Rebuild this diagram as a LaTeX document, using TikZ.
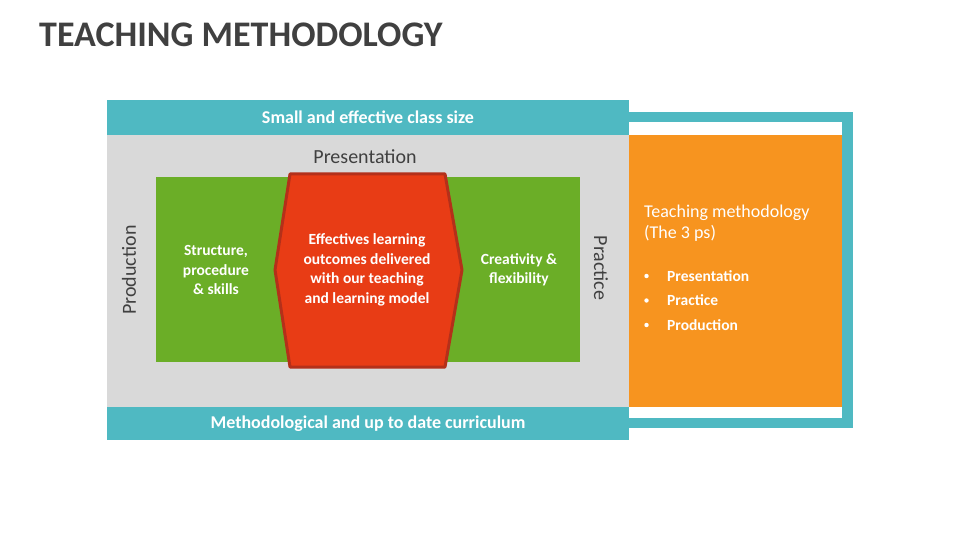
\documentclass[tikz,border=0pt]{standalone}
\usepackage{fontspec}
\setmainfont{Carlito}
\usepackage{xcolor}
\usetikzlibrary{positioning}

\definecolor{tealbar}{HTML}{4FB9C2}
\definecolor{panelgray}{HTML}{D9D9D9}
\definecolor{leafgreen}{HTML}{6BAE27}
\definecolor{hexred}{HTML}{E83C15}
\definecolor{hexedge}{HTML}{B4301A}
\definecolor{methodorange}{HTML}{F7941F}
\definecolor{inkgray}{HTML}{404040}

\begin{document}
\begin{tikzpicture}[
            x=1pt, y=-1pt,
            band/.style={rectangle, fill=tealbar, text=white, font=\fontsize{18}{21}\selectfont\bfseries, inner sep=0pt},
            panel/.style={rectangle, inner sep=0pt},
            whitetext/.style={text=white, font=\fontsize{15.5}{19.5}\selectfont\bfseries, align=center},
            sidetext/.style={text=inkgray, font=\fontsize{20}{24}\selectfont},
            bulletline/.style={text=white, font=\fontsize{15.5}{18}\selectfont\bfseries, anchor=west, inner sep=0pt}
        ]
        \useasboundingbox (0,0) rectangle (960,540);

        \node[anchor=west, inner sep=0pt, text=inkgray, font=\fontsize{36}{40}\selectfont\bfseries] (title) at (39,35) {TEACHING METHODOLOGY};

        % Left block
        \node[panel, fill=panelgray, minimum width=522pt, minimum height=272pt] (frame) at (368,271) {};
        \node[band, minimum width=522pt, minimum height=35pt] (classsize) at (368,117.5) {Small and effective class size};
        \node[band, minimum width=522pt, minimum height=33pt] (curriculum) at (368,423.5) {Methodological and up to date curriculum};
        \node[panel, fill=leafgreen, minimum width=424pt, minimum height=185pt] (green) at (368,269.5) {};

        % Centre hexagon
        \draw[fill=hexred, draw=hexedge, line width=3pt, line join=round]
            (290,174) -- (445,174) -- (462,270) -- (445,367) -- (290,367) -- (275,270) -- cycle;
        \node[whitetext] (outcomes) at (367,270) {Effectives learning\\outcomes delivered\\with our teaching\\and learning model};

        \node[whitetext] (structure) at (216,270) {Structure,\\procedure\\\& skills};
        \node[whitetext] (creativity) at (519,270) {Creativity \&\\flexibility};

        \node[sidetext] (presentation) at (365,157) {Presentation};
        \node[sidetext, rotate=90] (production) at (129,270) {Production};
        \node[sidetext, rotate=-90] (practice) at (601,268) {Practice};

        % Right block
        \node[panel, fill=tealbar, minimum width=224pt, minimum height=316pt] (methodframe) at (741,270) {};
        \node[panel, fill=white, minimum width=213pt, minimum height=296pt] (methodgap) at (735.5,270) {};
        \node[panel, fill=methodorange, minimum width=213pt, minimum height=272pt] (method) at (735.5,271) {};

        \node[anchor=north west, inner sep=0pt, align=left, text=white, font=\fontsize{18}{21}\selectfont] (methodhead) at (644,205) {Teaching methodology\\(The 3 ps)};
        \node[bulletline] (bulletone) at (667,276) {Presentation};
        \node[bulletline] (bullettwo) at (667,300.5) {Practice};
        \node[bulletline] (bulletthree) at (667,325) {Production};
        \foreach \y in {276,300.5,325}
            \fill[white] (646.5,\y) circle (2.2pt);

    \end{tikzpicture}
\end{document}
